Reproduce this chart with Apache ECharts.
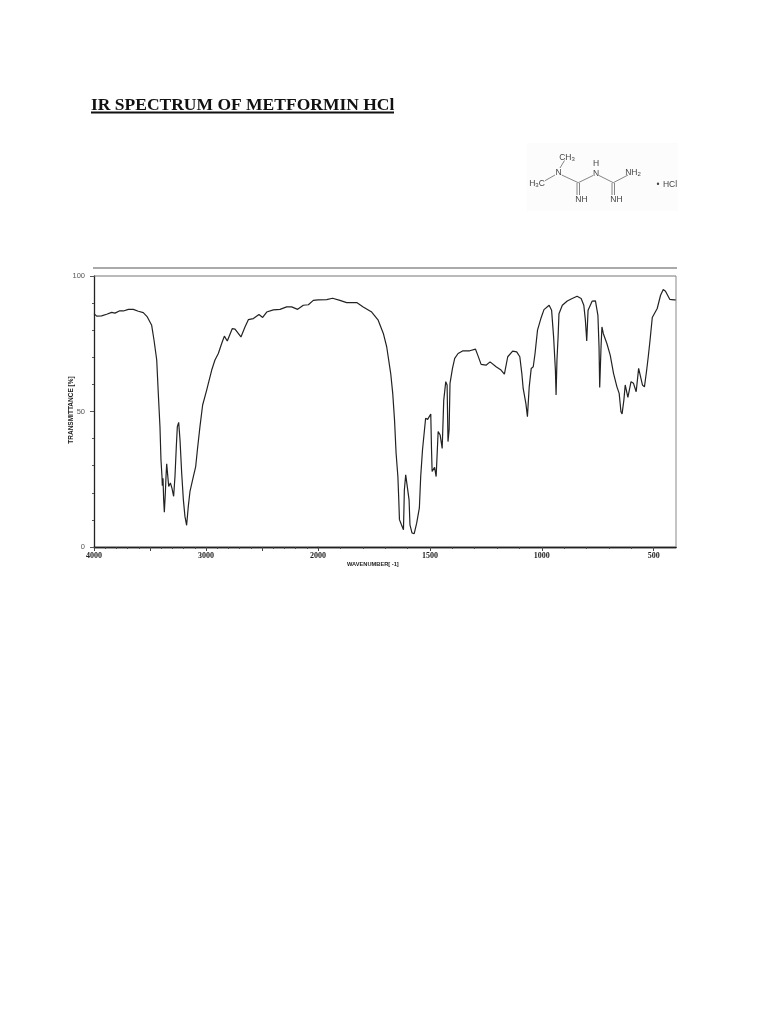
<!DOCTYPE html>
<html>
<head>
<meta charset="utf-8">
<title>IR spectrum of metformin HCl</title>
<style>
html,body{margin:0;padding:0;background:#fff;}
#main{width:768px;height:1024px;filter:blur(0.3px);}
</style>
<script src="https://cdn.jsdelivr.net/npm/echarts@6/dist/echarts.min.js"></script>
</head>
<body>
<div id="main"></div>
<script>
// 4000-2000 part of the spectrum (the scale changes at 2000)
var wavenumberHigh = [4000,3976,3932,3887,3842,3813,3774,3738,3693,3649,3604,3560,3524,3485,3464,3440,3426,3411,3402,3393,3390,3384,3378,3372,3363,3357,3351,3342,3333,3318,3304,3289,3277,3265,3256,3244,3232,3217,3202,3188,3173,3158,3143,3113,3092,3077,3054,3030,2994,2979,2949,2920,2890,2860,2836,2810,2765,2741,2688,2652,2622,2577,2527,2494,2458,2399,2339,2280,2235,2182,2131,2086,2042,2000];
var transmittanceHigh = [86.1,85.2,85.3,85.9,86.6,86.3,87.1,87.1,87.7,87.7,87.0,86.5,84.9,81.8,76.3,69.0,56.7,44.4,32.1,26.0,22.6,25.4,17.4,12.8,19.9,26.0,30.7,30.3,22.3,23.6,21.7,18.7,26.0,37.1,44.4,46.0,39.5,27.2,17.4,11.3,8.0,15.0,20.5,26.0,29.7,35.8,44.4,52.4,57.9,60.4,65.3,69.0,71.4,75.1,77.8,76.0,80.6,80.4,77.5,81.2,83.9,84.3,85.8,84.7,86.7,87.5,87.7,88.6,88.6,87.7,89.2,89.4,91.0,91.2];
// 2000-400 part
var wavenumberLow = [2000,1961,1935,1902,1872,1827,1798,1760,1731,1708,1693,1675,1666,1658,1651,1643,1639,1636,1627,1618,1614,1608,1601,1593,1589,1580,1570,1559,1547,1541,1533,1519,1510,1504,1496,1493,1490,1479,1472,1463,1454,1445,1438,1429,1423,1419,1414,1410,1399,1389,1374,1352,1322,1296,1286,1271,1249,1231,1204,1182,1167,1152,1130,1112,1098,1089,1083,1075,1071,1064,1056,1047,1038,1030,1019,1004,990,967,956,947,939,936,932,927,923,908,886,864,842,824,812,805,799,793,775,760,749,744,741,735,731,725,719,709,694,679,664,654,646,641,633,627,615,601,590,578,567,559,550,541,531,524,516,506,484,469,457,447,428,408,400];
var transmittanceLow = [91.2,91.3,91.8,91.0,90.2,90.2,88.6,86.7,83.7,78.8,73.9,64.0,56.7,46.9,34.6,26.0,17.4,10.1,8.2,6.4,21.1,26.6,26.6,17.4,8.2,5.2,4.9,8.8,14.4,26.0,35.8,47.5,47.1,46.9,49.1,37.1,27.9,29.4,26.0,42.6,41.3,36.4,54.2,61.0,59.8,38.9,43.2,60.4,65.9,69.6,71.4,72.4,72.4,73.0,70.8,67.4,67.1,68.3,66.5,65.3,63.8,70.2,72.3,72.0,70.2,64.0,58.5,58.9,53.0,48.1,59.1,65.9,66.5,71.4,80.0,84.3,87.6,89.2,87.4,77.5,65.3,56.1,69.0,77.5,86.1,89.2,90.8,91.7,92.5,91.7,89.2,83.7,76.0,87.4,90.7,90.8,85.5,73.9,58.9,73.9,81.2,78.8,79.0,75.1,70.8,64.0,59.1,56.7,49.9,49.1,54.2,59.8,55.2,61.0,60.4,57.3,65.9,65.9,59.8,59.1,65.3,70.2,76.3,84.7,88.0,92.9,95.0,94.4,91.4,91.2,91.2];

var minorTicksHigh = [];
var w;
for(w=2000;w<=4000;w+=100){minorTicksHigh.push(w);}
var majorTicksHigh = [4000,3500,3000,2500,2000];
var labelsHigh = [4000,3000,2000];
var minorTicksLow = [];
for(w=500;w<=2000;w+=100){minorTicksLow.push(w);}
var majorTicksLow = [2000,1500,1000,500];
var labelsLow = [1500,1000,500];
var minorTicksY = [0,10,20,30,40,50,60,70,80,90,100];
var majorTicksY = [0,50,100];

var axisColor = '#222';
var tickFont = {fontFamily:'Liberation Serif',fontSize:8,color:'#222',fontWeight:'bold'};

function xAxisFor(gridIndex,min,max,ticks,labels,tickLen){
	return {
		type:'value',
		gridIndex:gridIndex,
		position:'bottom',
		min:min,
		max:max,
		inverse:true,
		splitLine:{show:false},
		axisLine:{show:true,onZero:false,lineStyle:{color:axisColor,width:1.3}},
		axisTick:{show:true,customValues:ticks,length:tickLen,lineStyle:{color:'#444',width:1}},
		axisLabel:labels?{
			show:true,customValues:labels,margin:5,
			fontFamily:tickFont.fontFamily,fontSize:tickFont.fontSize,color:tickFont.color,fontWeight:tickFont.fontWeight,
			formatter:function(v){return String(v);}
		}:{show:false}
	};
}

// structure drawing top right
var atomLabels = [
	['CH{s|3}',567,157.5],['N',558.5,172.5],['H{s|3}C',537,183.5],['N',596,173.5],['H',596,164],
	['NH{s|2}',633,172.5],['NH',581.5,200],['NH',616.5,200],['•',658,185],['HCl',670,185]
];
var bonds = [
	[560,168,564.5,160.5],[555,175,545,180.7],[561.7,175,578.3,182.7],[578.3,182.7,593,175.5],
	[599,175.5,613.3,182.7],[613.3,182.7,628,175],[577,183,577,195],[579.5,183,579.5,195],
	[612,183,612,195],[614.5,183,614.5,195]
];

var graphics = [
	{type:'rect',silent:true,z:0,shape:{x:527,y:143,width:151,height:68},style:{fill:'#fcfcfc'}},
	{type:'text',left:91,top:96,z:5,style:{text:'IR SPECTRUM OF METFORMIN HCl',fontFamily:'Liberation Serif',fontWeight:'bold',fontSize:17.5,fill:'#111'}},
	{type:'line',z:5,shape:{x1:91,y1:112.5,x2:394,y2:112.5},style:{stroke:'#111',lineWidth:2}},
	{type:'line',z:5,shape:{x1:93,y1:268,x2:677,y2:268},style:{stroke:'#555',lineWidth:1}},
	{type:'line',z:5,shape:{x1:94,y1:276,x2:676,y2:276},style:{stroke:'#777',lineWidth:1}},
	{type:'line',z:5,shape:{x1:676,y1:276,x2:676,y2:547},style:{stroke:'#888',lineWidth:1}},
	{type:'text',left:347,top:561,z:5,style:{text:'WAVENUMBER[ -1]',fontFamily:'Liberation Sans',fontWeight:'bold',fontSize:5.7,fill:'#222'}},
	{type:'text',x:71,y:410,rotation:Math.PI/2,z:5,style:{text:'TRANSMITTANCE [%]',align:'center',verticalAlign:'middle',fontFamily:'Liberation Sans',fontWeight:'bold',fontSize:6.5,fill:'#222'}}
];
bonds.forEach(function(b){
	graphics.push({type:'line',z:5,shape:{x1:b[0],y1:b[1],x2:b[2],y2:b[3]},style:{stroke:'#666',lineWidth:0.8}});
});
atomLabels.forEach(function(a){
	graphics.push({type:'text',x:a[1],y:a[2],z:5,style:{
		text:a[0],align:'center',verticalAlign:'middle',
		fontFamily:'Liberation Sans',fontSize:8.5,fill:'#444',
		rich:{s:{fontSize:6,fill:'#444',fontFamily:'Liberation Sans',padding:[3,0,0,0]}}
	}});
});

var mycharts = echarts.init(document.getElementById('main'));
var option = {
	backgroundColor:'#fff',
	animation:false,
	graphic:graphics,
	grid:[
		{left:94,top:276,width:224,height:271},
		{left:318,top:276,width:358,height:271}
	],
	xAxis:[
		xAxisFor(0,2000,4000,minorTicksHigh,null,2),
		xAxisFor(0,2000,4000,majorTicksHigh,labelsHigh,4),
		xAxisFor(1,400,2000,minorTicksLow,null,2),
		xAxisFor(1,400,2000,majorTicksLow,labelsLow,4)
	],
	yAxis:[
		{
			type:'value',gridIndex:0,position:'left',min:0,max:100,interval:10,
			splitLine:{show:false},
			axisLine:{show:true,onZero:false,lineStyle:{color:axisColor,width:1.3}},
			axisTick:{show:true,customValues:minorTicksY,length:2,lineStyle:{color:'#555'}},
			axisLabel:{show:true,customValues:majorTicksY,margin:9,fontFamily:'Liberation Sans',fontSize:7.5,color:'#555'}
		},
		{
			type:'value',gridIndex:0,position:'left',min:0,max:100,
			splitLine:{show:false},
			axisLine:{show:false},
			axisTick:{show:true,customValues:majorTicksY,length:4,lineStyle:{color:'#555'}},
			axisLabel:{show:false}
		},
		{type:'value',gridIndex:1,min:0,max:100,show:false}
	],
	series:[
		{
			name:'High',type:'line',xAxisIndex:0,yAxisIndex:0,showSymbol:false,symbol:'none',
			lineStyle:{color:'#222',width:1.2},
			data:wavenumberHigh.map(function(x,i){return [x,transmittanceHigh[i]];})
		},
		{
			name:'Low',type:'line',xAxisIndex:2,yAxisIndex:2,showSymbol:false,symbol:'none',
			lineStyle:{color:'#222',width:1.2},
			data:wavenumberLow.map(function(x,i){return [x,transmittanceLow[i]];})
		}
	]
};
mycharts.setOption(option);
</script>
</body>
</html>
